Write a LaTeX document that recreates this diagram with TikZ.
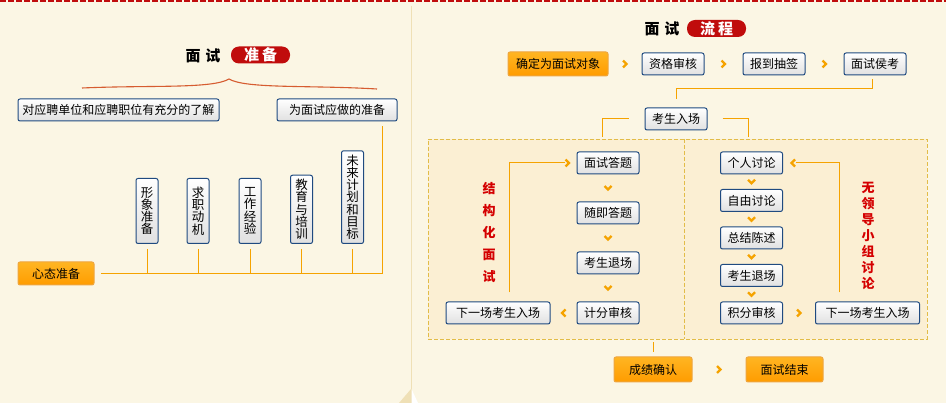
\documentclass[tikz,border=0pt]{standalone}
\usepackage{fontspec}
\setmainfont{Noto Sans CJK SC}
\usetikzlibrary{positioning}
\usetikzlibrary{calc}
\definecolor{paper}{HTML}{FBF6E4}
\definecolor{stagefill}{HTML}{FBEFD3}
\definecolor{stageedge}{HTML}{E2BC48}
\definecolor{frame}{HTML}{1F4A80}
\definecolor{linkc}{HTML}{F5A300}
\definecolor{badgered}{HTML}{C00C0C}
\definecolor{titlered}{HTML}{D40000}
\definecolor{orangetop}{HTML}{FFB522}
\definecolor{orangebot}{HTML}{FF9C00}
\definecolor{orangeedge}{HTML}{EEA640}
\definecolor{bracec}{HTML}{D65C30}
\definecolor{foldc}{HTML}{EFE0B6}
\tikzset{
  chevE/.pic={\draw[chevline] (-2,-3.5) -- (1.5,0) -- (-2,3.5);},
  chevW/.pic={\draw[chevline] (2,-3.5) -- (-1.5,0) -- (2,3.5);},
  chevS/.pic={\draw[chevline] (-3.5,-2) -- (0,1.5) -- (3.5,-2);}
}
\begin{document}
\begin{tikzpicture}[x=1pt,y=-1pt]
\tikzstyle{box}=[rectangle,rounded corners=2pt,draw=frame,line width=1pt,
top color=white,bottom color=black!12,inner sep=2pt,minimum height=22pt,
font=\fontsize{12}{14}\selectfont]
\tikzstyle{orangebox}=[box,draw=orangeedge,top color=orangetop,bottom color=orangebot]
\tikzstyle{tallbox}=[box,align=center,inner ysep=4pt,minimum width=22pt,
minimum height=65pt,anchor=south,font=\fontsize{12.5}{12.2}\selectfont]
\tikzstyle{link}=[draw=linkc,line width=1pt]
\tikzstyle{chevline}=[draw=linkc,line width=2.2pt]
\tikzstyle{title}=[font=\bfseries\fontsize{15}{16}\selectfont]
\tikzstyle{badge}=[rectangle,rounded corners=8pt,fill=badgered,text=white,
minimum width=59pt,minimum height=17pt,inner sep=0pt,font=\bfseries\fontsize{15}{16}\selectfont]
\tikzstyle{sidetext}=[align=center,text=titlered,font=\bfseries\fontsize{13}{22}\selectfont]
\useasboundingbox (0,0) rectangle (946,403);
% paper and page fold
\fill[paper] (0,0) rectangle (946,403);
\draw[badgered,line width=2pt,dash pattern=on 6pt off 2pt] (0,1) -- (946,1);
\draw[foldc,line width=1pt] (411,6) -- (411,403);
\fill[foldc] (399,403) -- (411,389) -- (411,403) -- cycle;
\fill[white] (411.5,389) -- (418,403) -- (411.5,403) -- cycle;

% left page: preparation
\node[title] (prepTitle) at (203,56) {面\hspace{5pt}试};
\node[badge] (prepBadge) at (260.5,55) {准\hspace{3pt}备};
\draw[bracec,line width=1.1pt] (82,88) .. controls (150,85) and (212,89) .. (229,79)
  .. controls (246,89) and (310,85) .. (377,89);
\node[box,minimum width=201pt] (know) at (118.5,110) {对应聘单位和应聘职位有充分的了解};
\node[box,minimum width=120pt] (prep) at (337,110) {为面试应做的准备};
\node[orangebox,minimum width=76pt,minimum height=23pt] (mind) at (56,273.5) {心态准备};
\node[tallbox] (look) at (147,244) {形\\象\\准\\备};
\node[tallbox] (motive) at (198,244) {求\\职\\动\\机};
\node[tallbox] (work) at (250,244) {工\\作\\经\\验};
\node[tallbox] (study) at (301.5,244) {教\\育\\与\\培\\训};
\node[tallbox] (plan) at (352.5,244) {未\\来\\计\\划\\和\\目\\标};
\draw[link] ([xshift=45pt,yshift=-5pt]prep.south) |- ([xshift=6pt]mind.east);
\foreach \n in {look,motive,work,study,plan}
  \draw[link] ([yshift=-5pt]\n.south) -- (\n.south |- mind.east);

% right page: procedure
\node[title] (flowTitle) at (662,29) {面\hspace{5pt}试};
\node[badge] (flowBadge) at (716.5,28.5) {流\hspace{3pt}程};
\node[orangebox,minimum width=100pt,minimum height=24pt] (target) at (558,64) {确定为面试对象};
\node[box,minimum width=62pt] (check) [right=33pt of target] {资格审核};
\node[box,minimum width=62pt] (draw) [right=38pt of check] {报到抽签};
\node[box,minimum width=62pt] (wait) [right=38pt of draw] {面试侯考};
\pic at ($(target.east)!.5!(check.west)$) {chevE};
\pic at ($(check.east)!.5!(draw.west)$) {chevE};
\pic at ($(draw.east)!.5!(wait.west)$) {chevE};
\node[box,minimum width=62pt] (enter) at (676,119) {考生入场};
\draw[link] ([xshift=-3pt,yshift=-4pt]wait.south) -- ++(0,9) -| ([yshift=8pt]enter.north);

\node[rectangle,fill=stagefill,draw=stageedge,line width=0.8pt,dash pattern=on 4pt off 2pt,
minimum width=499pt,minimum height=200pt] (stage) at (677.5,239) {};
\coordinate (splitTop) at (684,139);
\draw[stageedge,line width=0.8pt,dash pattern=on 4pt off 2pt] (splitTop) -- (splitTop |- stage.south);
\coordinate (splitL) at (602,137);
\coordinate (splitR) at (748,137);
\draw[link] ([xshift=-16pt]enter.west) -| (splitL);
\draw[link] ([xshift=15pt]enter.east) -| (splitR);

% structured interview
\node[box,minimum width=62pt] (ansA) at (608,163) {面试答题};
\node[box,minimum width=62pt] (ansB) [below=27pt of ansA] {随即答题};
\node[box,minimum width=62pt] (leaveA) [below=27pt of ansB] {考生退场};
\node[box,minimum width=62pt] (scoreA) [below=27pt of leaveA] {计分审核};
\node[box,minimum width=104pt] (nextA) [left=26pt of scoreA] {下一场考生入场};
\pic at ($(ansA.south)!.5!(ansB.north)$) {chevS};
\pic at ($(ansB.south)!.5!(leaveA.north)$) {chevS};
\pic at ($(leaveA.south)!.5!(scoreA.north)$) {chevS};
\pic at ($(nextA.east)!.5!(scoreA.west)$) {chevW};
\draw[link] ([xshift=11pt,yshift=9pt]nextA.north) |- ([xshift=-12pt]ansA.west);
\pic at ([xshift=-9pt]ansA.west) {chevE};
\node[sidetext] (kindA) at (489,232) {结\\构\\化\\面\\试};

% leaderless group discussion
\node[box,minimum width=62pt] (discA) at (751.5,163) {个人讨论};
\node[box,minimum width=62pt] (discB) [below=14.5pt of discA] {自由讨论};
\node[box,minimum width=62pt] (sumB) [below=14.5pt of discB] {总结陈述};
\node[box,minimum width=62pt] (leaveB) [below=14.5pt of sumB] {考生退场};
\node[box,minimum width=62pt] (scoreB) [below=14.5pt of leaveB] {积分审核};
\node[box,minimum width=104pt] (nextB) [right=32pt of scoreB] {下一场考生入场};
\pic at ($(discA.south)!.5!(discB.north)$) {chevS};
\pic at ($(discB.south)!.5!(sumB.north)$) {chevS};
\pic at ($(sumB.south)!.5!(leaveB.north)$) {chevS};
\pic at ($(leaveB.south)!.5!(scoreB.north)$) {chevS};
\pic at ($(scoreB.east)!.5!(nextB.west)$) {chevE};
\draw[link] ([xshift=-28pt,yshift=9pt]nextB.north) |- ([xshift=13pt]discA.east);
\pic at ([xshift=10pt]discA.east) {chevW};
\node[sidetext,font=\bfseries\fontsize{13}{16}\selectfont] (kindB) at (868,236) {无\\领\\导\\小\\组\\讨\\论};

% result
\node[orangebox,minimum width=78pt,minimum height=25pt] (confirm) at (653,369.5) {成绩确认};
\node[orangebox,minimum width=77pt,minimum height=25pt] (finish) at (784.5,369.5) {面试结束};
\draw[link] ([yshift=14pt]confirm.north) -- ([yshift=4pt]confirm.north);
\pic at ($(confirm.east)!.5!(finish.west)$) {chevE};
\end{tikzpicture}
\end{document}
